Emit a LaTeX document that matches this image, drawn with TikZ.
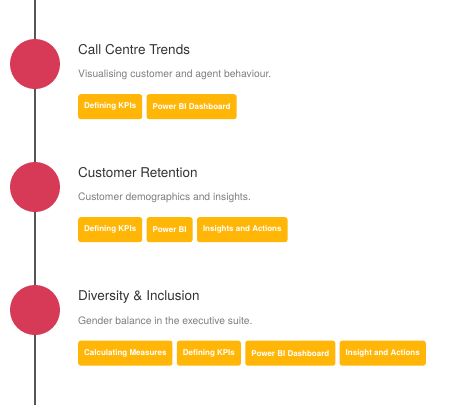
\documentclass[tikz,border=0pt]{standalone}
\usepackage{fontspec}
\setmainfont{TeX Gyre Heros}
\usetikzlibrary{positioning}
\definecolor{milered}{HTML}{D63A56}
\definecolor{tagorange}{HTML}{FFB606}
\definecolor{titlegray}{HTML}{333333}
\definecolor{subgray}{HTML}{7E7E7E}
\definecolor{linegray}{HTML}{555555}
\tikzset{
  milestone/.style={circle, fill=milered, minimum size=50pt, inner sep=0pt},
  heading/.style={anchor=base west, inner sep=0pt, text=titlegray, font=\fontsize{13.5}{16}\selectfont},
  blurb/.style={anchor=base west, inner sep=0pt, text=subgray, font=\fontsize{10.3}{12}\selectfont},
  tagbox/.style={fill=tagorange, rounded corners=2.5pt, text=white, font=\bfseries\fontsize{8}{9}\selectfont, minimum height=25pt, inner xsep=6pt, inner ysep=0pt},
}

\begin{document}
\begin{tikzpicture}[x=1pt, y=-1pt, node distance=4pt]
		%%%%% START %%%%%
		\useasboundingbox[fill=white] (0,0) rectangle (474,405);
		
		% timeline
		\coordinate (top) at (35,0);
		\coordinate (bottom) at (35,405);
		\draw[linegray, line width=1.2pt] (top) -- (bottom);
		
		% call centre
		\node[milestone] (m1) at (35,64) {};
		\node[heading] (h1) at (78,54) {Call Centre Trends};
		\node[blurb] (b1) at (78,77.5) {Visualising customer and agent behaviour.};
		\node[tagbox, anchor=north west] (t1a) at (78,94) {Defining KPIs};
		\node[tagbox, right=of t1a] (t1b) {Power BI Dashboard};
		
		% retention
		\node[milestone] (m2) at (35,187) {};
		\node[heading] (h2) at (78,177) {Customer Retention};
		\node[blurb] (b2) at (78,200.5) {Customer demographics and insights.};
		\node[tagbox, anchor=north west] (t2a) at (78,217) {Defining KPIs};
		\node[tagbox, right=of t2a] (t2b) {Power BI};
		\node[tagbox, right=of t2b] (t2c) {Insights and Actions};
		
		% diversity
		\node[milestone] (m3) at (35,310) {};
		\node[heading] (h3) at (78,300) {Diversity \& Inclusion};
		\node[blurb] (b3) at (78,324) {Gender balance in the executive suite.};
		\node[tagbox, anchor=north west] (t3a) at (78,340.5) {Calculating Measures};
		\node[tagbox, right=of t3a] (t3b) {Defining KPIs};
		\node[tagbox, right=of t3b] (t3c) {Power BI Dashboard};
		\node[tagbox, right=of t3c] (t3d) {Insight and Actions};
		%%%%% END %%%%%
\end{tikzpicture}
\end{document}
